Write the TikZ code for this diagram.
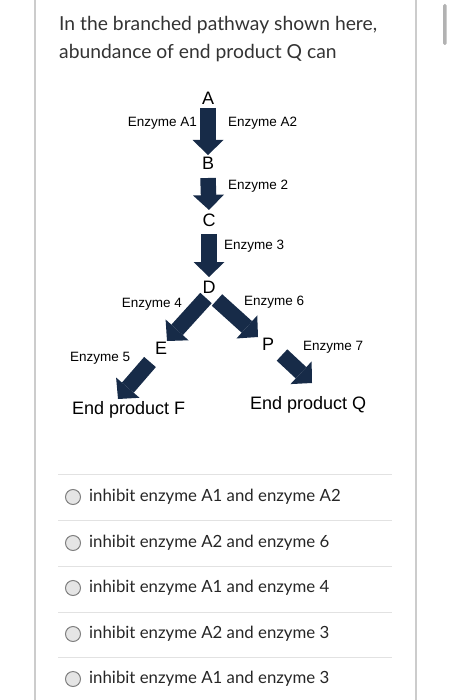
\documentclass[tikz,border=0pt]{standalone}
\usepackage{fontspec}
\setmainfont{Lato}
\newfontfamily\arialfont{Liberation Sans}
\usetikzlibrary{arrows.meta}
\definecolor{navy}{HTML}{172B48}
\definecolor{cardline}{HTML}{CCCCCC}
\definecolor{sepline}{HTML}{E2E2E2}
\tikzset{
  qtext/.style={anchor=base west,inner sep=0pt,text=black!80,font=\fontsize{19.3}{23}\selectfont},
  met/.style={inner sep=0pt,font=\arialfont\fontsize{18}{21}\selectfont},
  enz/.style={inner sep=0pt,font=\arialfont\fontsize{13.5}{16}\selectfont},
  endp/.style={inner sep=0pt,anchor=west,font=\arialfont\fontsize{18}{21}\selectfont},
  blk/.style={navy,line width=15.5pt,-{Triangle[width=31pt,length=15pt,line width=0pt]}},
  opt/.style={anchor=west,inner sep=0pt,text=black!85,font=\fontsize{16.8}{20}\selectfont},
  radio/.style={circle,draw=black!50,fill=black!10,line width=1pt,minimum size=15pt,inner sep=0pt}
}

\begin{document}
\begin{tikzpicture}[x=1pt,y=-1pt]
\useasboundingbox (0,0) rectangle (451,700);

% card and scroll bar
\draw[cardline,line width=1.5pt] (35,0) -- (35,700);
\draw[cardline,line width=1.5pt] (416,0) -- (416,700);
\fill[black!30,rounded corners=1.5pt] (443,4) rectangle (446.5,45);

% question
\node[qtext] (q1) at (59,31) {In the branched pathway shown here,};
\node[qtext] (q2) at (59,59) {abundance of end product Q can};

% pathway
\node[met] (A) at (208,98) {A};
\node[met] (B) at (208,163) {B};
\node[met] (C) at (209,220) {C};
\node[met] (D) at (209,287) {D};
\node[met] (E) at (161,348) {E};
\node[met] (P) at (268,344) {P};
\node[endp] (F) at (72,410) {End product F};
\node[endp] (Q) at (250,405) {End product Q};

\draw[blk] ([yshift=-10pt]A.center) -- ([yshift=8pt]B.center);
\draw[blk] ([yshift=-15pt]B.center) -- ([yshift=10pt]C.center);
\draw[blk] ([yshift=-14pt]C.center) -- ([yshift=10pt]D.center);
\draw[blk] ([shift={(-3pt,-11pt)}]D.center) -- ([shift={(6pt,7pt)}]E.center);
\draw[blk] ([shift={(8pt,-13pt)}]D.center) -- ([shift={(-10pt,7pt)}]P.center);
\draw[blk] ([shift={(-11pt,-14pt)}]E.center) -- ([shift={(46pt,11pt)}]F.west);
\draw[blk] ([shift={(14pt,-11pt)}]P.center) -- ([shift={(62pt,22pt)}]Q.west);

\node[enz,anchor=east] (ea1) at (197,123) {Enzyme A1};
\node[enz,anchor=west] (ea2) at (228,123) {Enzyme A2};
\node[enz,anchor=west] (e2) at (228,186) {Enzyme 2};
\node[enz,anchor=west] (e3) at (224,246) {Enzyme 3};
\node[enz,anchor=east] (e4) at (182,304) {Enzyme 4};
\node[enz,anchor=west] (e6) at (244,302) {Enzyme 6};
\node[enz,anchor=west] (e5) at (70,358) {Enzyme 5};
\node[enz,anchor=west] (e7) at (303,347) {Enzyme 7};

% answer choices
\foreach \y in {474,520,566,612,657}
  \draw[sepline,line width=1pt] (58,\y) -- (392,\y);

\node[radio] (r1) at (73,497) {};
\node[radio] (r2) at (73,543) {};
\node[radio] (r3) at (73,588) {};
\node[radio] (r4) at (73,634) {};
\node[radio] (r5) at (73,679) {};
\node[opt] (o1) at (89,497) {inhibit enzyme A1 and enzyme A2};
\node[opt] (o2) at (89,543) {inhibit enzyme A2 and enzyme 6};
\node[opt] (o3) at (89,588) {inhibit enzyme A1 and enzyme 4};
\node[opt] (o4) at (89,634) {inhibit enzyme A2 and enzyme 3};
\node[opt] (o5) at (89,679) {inhibit enzyme A1 and enzyme 3};

\end{tikzpicture}
\end{document}
